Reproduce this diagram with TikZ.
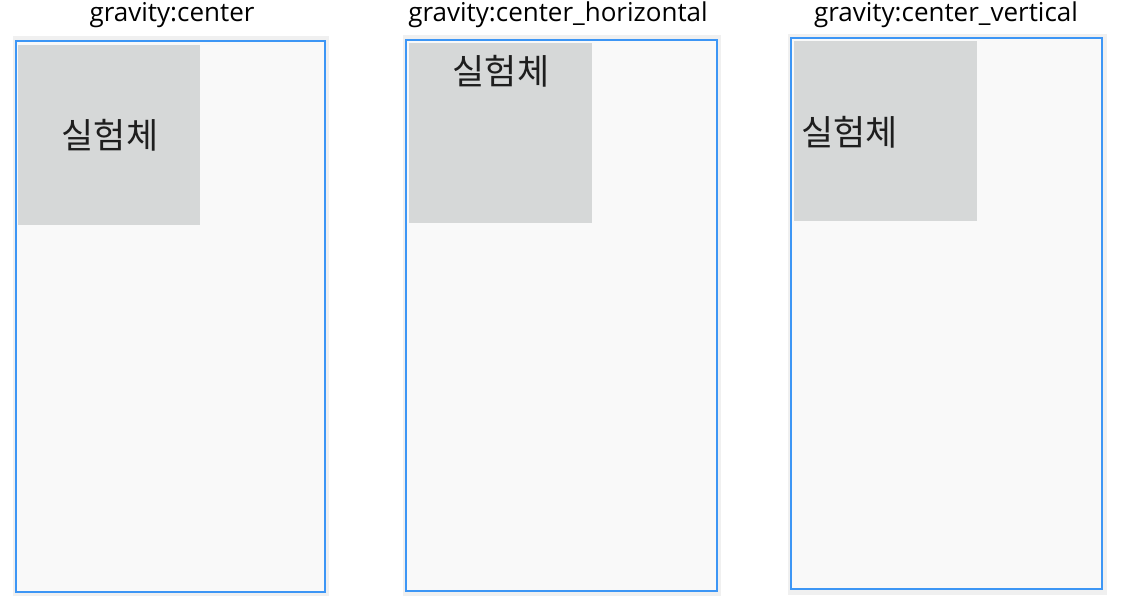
\documentclass[tikz,border=0pt]{standalone}
\usepackage{fontspec}
\setmainfont{Open Sans}
\newfontfamily\krfont{Noto Sans CJK KR}
\definecolor{panelbg}{HTML}{F9F9F9}
\definecolor{halo}{HTML}{F0F0F0}
\definecolor{edgeblue}{HTML}{3D96F5}
\definecolor{boxgrey}{HTML}{D6D8D8}
\definecolor{inktext}{HTML}{1E1E1E}
\tikzset{
  title/.style={font=\fontsize{26}{30}\selectfont, text=black, inner sep=0pt, anchor=center},
  halorect/.style={fill=halo, draw=none},
  panel/.style={fill=panelbg, draw=edgeblue, line width=1.3pt},
  greybox/.style={fill=boxgrey, draw=none},
  kr/.style={font=\krfont\fontsize{35}{40}\selectfont, text=inktext, inner sep=0pt}
}
\begin{document}
\begin{tikzpicture}[x=1pt,y=-1pt]
\useasboundingbox (0,0) rectangle (1121,598);
% panel 1
\fill[halo] (13,36) rectangle (329,596);
\draw[panel] (16,41) rectangle (325,592);
\node[greybox, minimum width=182pt, minimum height=180pt, anchor=north west, inner sep=0pt] (b1) at (18,45) {};
\node[kr] (t1) at (110,135) {실험체};
\node[title] (h1) at (172,15) {gravity:center};
% panel 2
\fill[halo] (403,35) rectangle (721,596);
\draw[panel] (406,40) rectangle (717,591);
\node[greybox, minimum width=183pt, minimum height=180pt, anchor=north west, inner sep=0pt] (b2) at (409,43) {};
\node[kr] (t2) at (501,71) {실험체};
\node[title] (h2) at (558,15) {gravity:center\_horizontal};
% panel 3
\fill[halo] (788,34) rectangle (1107,595);
\draw[panel] (791,38) rectangle (1102,589);
\node[greybox, minimum width=183pt, minimum height=180pt, anchor=north west, inner sep=0pt] (b3) at (794,41) {};
\node[kr, anchor=west] (t3) at (801,132) {실험체};
\node[title] (h3) at (946,15) {gravity:center\_vertical};
\end{tikzpicture}
\end{document}
